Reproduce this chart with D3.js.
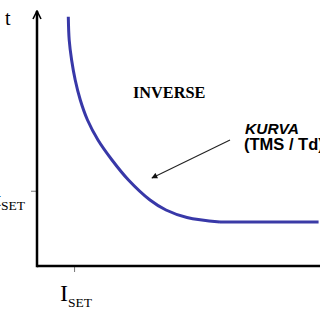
<!DOCTYPE html>
<html>
<head>
<meta charset="utf-8">
<script src="https://cdn.jsdelivr.net/npm/d3@7"></script>
<style>
  html, body { margin: 0; padding: 0; background: #fff; }
  svg { display: block; }
</style>
</head>
<body>
<div id="chart"></div>
<script>
// curve readings (current, time) in arbitrary units
var curveI = [11.06, 11.38, 12.23, 13.5, 15.3, 17.84, 21.55, 26.5, 32.33, 39.93, 45.58, 53.0, 64.66];
var curveT = [97.38, 88.28, 80.47, 72.66, 64.84, 57.03, 49.22, 41.41, 33.59, 25.78, 21.88, 18.95, 17.19];
var flatI = [64.66, 99.5];
var flatT = [17.19, 17.19];
var iSet = 13.1;
var tSet = 29.4;
var arrowFrom = [68.2, 49.2];
var arrowTo = [40.6, 34.4];

var svgWidth = 320;
var svgHeight = 320;

var svg = d3.select("#chart")
    .append("svg")
    .attr("width", svgWidth)
    .attr("height", svgHeight);

var x = d3.scaleLinear().domain([0, 100]).range([37, 320]);
var y = d3.scaleLinear().domain([0, 100]).range([266, 10]);

var defs = svg.append("defs");
defs.append("marker")
    .attr("id", "axisHead")
    .attr("viewBox", "0 0 10 10")
    .attr("refX", 9).attr("refY", 5)
    .attr("markerWidth", 4).attr("markerHeight", 4)
    .attr("markerUnits", "strokeWidth")
    .attr("orient", "auto")
  .append("path")
    .attr("d", "M1,1 L9,5 L1,9")
    .attr("fill", "none")
    .attr("stroke", "#000")
    .attr("stroke-width", 1.6);

defs.append("marker")
    .attr("id", "noteHead")
    .attr("viewBox", "0 0 10 10")
    .attr("refX", 9).attr("refY", 5)
    .attr("markerWidth", 7).attr("markerHeight", 6)
    .attr("markerUnits", "userSpaceOnUse")
    .attr("orient", "auto")
  .append("path")
    .attr("d", "M0,0 L10,5 L0,10 Z")
    .attr("fill", "#111");

// ticks
var bottomAxis = d3.axisBottom(x).tickValues([iSet]).tickSize(6).tickFormat("");
var leftAxis = d3.axisLeft(y).tickValues([tSet]).tickSize(6).tickFormat("");

svg.append("g")
    .attr("transform", `translate(0, ${y(0)})`)
    .call(bottomAxis)
    .call(g => g.select(".domain").remove())
    .selectAll("line").attr("stroke", "#777");

svg.append("g")
    .attr("transform", `translate(${x(0)}, 0)`)
    .call(leftAxis)
    .call(g => g.select(".domain").remove())
    .selectAll("line").attr("stroke", "#777");

// axes lines
svg.append("line")
    .attr("x1", x(0)).attr("y1", y(0))
    .attr("x2", 320).attr("y2", y(0))
    .attr("stroke", "#000").attr("stroke-width", 2.5);

svg.append("line")
    .attr("x1", x(0)).attr("y1", y(0) + 1.2)
    .attr("x2", x(0)).attr("y2", 11)
    .attr("stroke", "#000").attr("stroke-width", 2.5)
    .attr("marker-end", "url(#axisHead)");

// curve
var line = d3.line()
    .x(d => x(d[0]))
    .y(d => y(d[1]))
    .curve(d3.curveCatmullRom.alpha(0.5));

svg.append("path")
    .datum(curveI.map((v, i) => [v, curveT[i]]))
    .attr("d", line)
    .attr("fill", "none")
    .attr("stroke", "#3838a8")
    .attr("stroke-width", 3);

svg.append("path")
    .datum(flatI.map((v, i) => [v, flatT[i]]))
    .attr("d", line)
    .attr("fill", "none")
    .attr("stroke", "#3b3ba6")
    .attr("stroke-width", 3.2);

// labels
svg.append("text")
    .attr("x", 5).attr("y", 25)
    .attr("font-family", "Liberation Serif, serif")
    .attr("font-size", 20)
    .text("t");

var tLab = svg.append("text")
    .attr("x", 25).attr("y", y(tSet) + 15)
    .attr("text-anchor", "end")
    .attr("font-family", "Liberation Serif, serif");
tLab.append("tspan").attr("font-size", 22).text("t");
tLab.append("tspan").attr("font-size", 13.5).attr("dy", 4).text("SET");

var iLab = svg.append("text")
    .attr("x", x(iSet) - 14).attr("y", 301)
    .attr("font-family", "Liberation Serif, serif");
iLab.append("tspan").attr("font-size", 24).text("I");
iLab.append("tspan").attr("font-size", 13.5).attr("dy", 6).text("SET");

svg.append("text")
    .attr("x", 133).attr("y", 98)
    .attr("font-family", "Liberation Serif, serif")
    .attr("font-weight", "bold")
    .attr("font-size", 16.3)
    .text("INVERSE");

svg.append("text")
    .attr("x", 245).attr("y", 134)
    .attr("font-family", "Liberation Sans, Arial, sans-serif")
    .attr("font-weight", "bold")
    .attr("font-style", "italic")
    .attr("font-size", 15.5)
    .text("KURVA");

svg.append("text")
    .attr("x", 244).attr("y", 149.5)
    .attr("font-family", "Liberation Sans, Arial, sans-serif")
    .attr("font-weight", "bold")
    .attr("font-size", 16.5)
    .text("(TMS / Td)");

// pointer arrow
svg.append("line")
    .attr("x1", x(arrowFrom[0])).attr("y1", y(arrowFrom[1]))
    .attr("x2", x(arrowTo[0])).attr("y2", y(arrowTo[1]))
    .attr("stroke", "#222")
    .attr("stroke-width", 1.1)
    .attr("marker-end", "url(#noteHead)");
</script>
</body>
</html>
